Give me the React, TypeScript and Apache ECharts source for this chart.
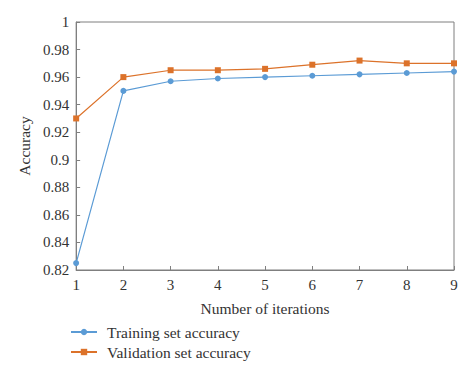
import React, { useEffect, useRef } from "react";
import * as echarts from "echarts";

const iterations = [1, 2, 3, 4, 5, 6, 7, 8, 9];
const trainingAcc = [0.825, 0.95, 0.957, 0.959, 0.96, 0.961, 0.962, 0.963, 0.964];
const validationAcc = [0.93, 0.96, 0.965, 0.965, 0.966, 0.969, 0.972, 0.97, 0.97];
const seriesNames = ["Training set accuracy", "Validation set accuracy"];

const FONT = "'Liberation Serif', 'DejaVu Serif', serif";
const BLUE = "#5b9bd5";
const ORANGE = "#dc722a";

export default function App() {
  const ref = useRef<HTMLDivElement>(null);
  useEffect(() => {
    if (!ref.current) return;
    const chart = echarts.init(ref.current, undefined, { renderer: "svg" });
    const mk = (vals: number[]) => iterations.map((x, i) => [x, vals[i]]);
    const legendBase = {
      orient: "vertical",
      left: 57,
      itemWidth: 26,
      itemHeight: 8,
      textStyle: { fontFamily: FONT, fontSize: 15.5, color: "#333", padding: [0, 0, 0, 5] },
    };
    chart.setOption({
      animation: false,
      backgroundColor: "#fff",
      grid: {
        left: 62,
        right: 12,
        top: 14,
        bottom: 101,
        show: true,
        borderColor: "#7f7f7f",
        borderWidth: 1,
        backgroundColor: "transparent",
      },
      legend: [
        { ...legendBase, top: 311, data: [seriesNames[0]] },
        { ...legendBase, top: 331, data: [seriesNames[1]] },
      ],
      xAxis: {
        type: "value",
        min: 1,
        max: 9,
        interval: 1,
        name: "Number of iterations",
        nameLocation: "middle",
        nameGap: 30,
        nameTextStyle: { fontFamily: FONT, fontSize: 15.5, color: "#333" },
        axisLine: { lineStyle: { color: "#7f7f7f" } },
        axisTick: { inside: true, length: 4, lineStyle: { color: "#7f7f7f" } },
        axisLabel: { fontFamily: FONT, fontSize: 15, color: "#333", margin: 7 },
        splitLine: { show: false },
      },
      yAxis: {
        type: "value",
        min: 0.82,
        max: 1,
        interval: 0.02,
        name: "Accuracy",
        nameLocation: "middle",
        nameGap: 43,
        nameTextStyle: { fontFamily: FONT, fontSize: 15.5, color: "#333" },
        axisLine: { lineStyle: { color: "#7f7f7f" } },
        axisTick: { inside: true, length: 4, lineStyle: { color: "#7f7f7f" } },
        axisLabel: {
          fontFamily: FONT,
          fontSize: 15,
          color: "#333",
          margin: 7,
          formatter: (v: number) => String(parseFloat(v.toFixed(2))),
        },
        splitLine: { show: false },
      },
      series: [
        {
          name: seriesNames[0],
          type: "line",
          data: mk(trainingAcc),
          symbol: "circle",
          symbolSize: 6,
          itemStyle: { color: BLUE },
          lineStyle: { color: BLUE, width: 1.2 },
        },
        {
          name: seriesNames[1],
          type: "line",
          data: mk(validationAcc),
          symbol: "rect",
          symbolSize: 6,
          itemStyle: { color: ORANGE },
          lineStyle: { color: ORANGE, width: 1.2 },
        },
      ],
    });
    return () => chart.dispose();
  }, []);
  return <div ref={ref} style={{ width: 458, height: 363 }} />;
}
